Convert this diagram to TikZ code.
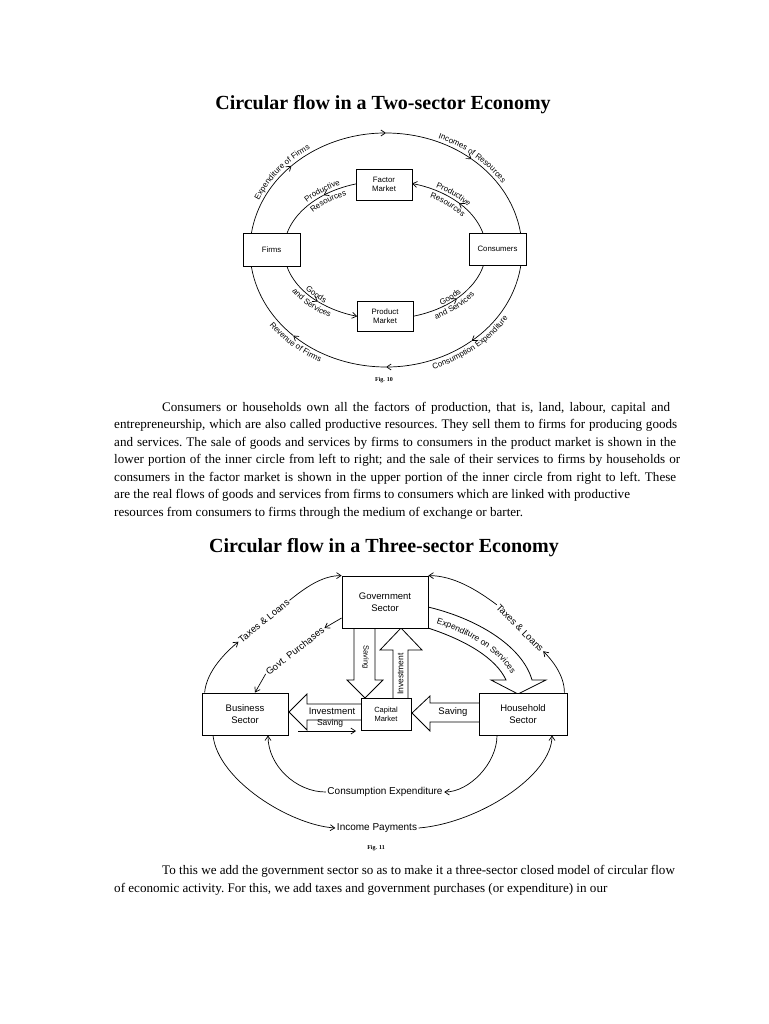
\documentclass[tikz,border=0pt]{standalone}
\usepackage{fontspec}
\setmainfont{Liberation Serif}
\setsansfont{Liberation Sans}
\usetikzlibrary{arrows.meta,decorations.text}
\newcommand{\lbl}{\sffamily\fontsize{8}{9}\selectfont}
\newcommand{\eslbl}{\sffamily\fontsize{8.5}{9}\selectfont}
\newcommand{\ellarc}[6][]{\draw[flow,#1] (#2) ++(#5:#3 and #4) arc[start angle=#5,end angle=#6,x radius=#3,y radius=#4];}
\newcommand{\arclabel}[6]{\path[decorate,decoration={text along path,text align=center,text={#6}}] (#1) ++(#4:#2 and #3) arc[start angle=#4,end angle=#5,x radius=#2,y radius=#3];}
\newcommand{\jline}[2]{\hbox to #1pt{#2}}
\tikzset{
  flow/.style={line width=0.7pt},
  barb/.style={-{Straight Barb[length=4.5pt,width=6pt]}},
  fbox/.style={draw,fill=white,line width=0.8pt,inner sep=0pt,align=center,font=\sffamily\fontsize{7.8}{9.2}\selectfont},
  gbox/.style={draw,fill=white,line width=0.8pt,inner sep=0pt,align=center,font=\sffamily\fontsize{9.5}{11.5}\selectfont},
  blk/.style={draw,fill=white,line width=0.8pt,line join=miter},
  glbl/.style={font=\sffamily\fontsize{9.5}{11}\selectfont,inner sep=1.5pt},
  para/.style={anchor=base west,inner sep=0pt,font=\fontsize{13.1}{15}\selectfont\frenchspacing},
  ttl/.style={font=\bfseries\fontsize{20}{24}\selectfont,inner sep=0pt},
  figcap/.style={font=\bfseries\fontsize{6}{7}\selectfont,inner sep=0pt}
}
\begin{document}
\begin{tikzpicture}[x=1pt,y=-1pt]
\useasboundingbox (0,0) rectangle (768,1024);
\fill[white] (0,0) rectangle (768,1024);

% ---------- Title 1 ----------
\node[ttl] (t1) at (383,105) {Circular flow in a Two-sector Economy};

% ---------- Diagram 1 ----------
\coordinate (c1) at (386,250);
\coordinate (c2) at (385,250);
% outer ellipse (clockwise flow)
\ellarc[barb]{c1}{136}{117}{186}{226}
\ellarc[barb]{c1}{136}{117}{226}{270}
\ellarc[barb]{c1}{136}{117}{270}{309}
\ellarc{c1}{136}{117}{309}{354}
\ellarc[barb]{c1}{136}{117}{6}{51}
\ellarc[barb]{c1}{136}{117}{51}{90}
\ellarc[barb]{c1}{136}{117}{90}{133}
\ellarc{c1}{136}{117}{133}{174}
% inner ellipse
\ellarc[barb]{c2}{101}{69}{348}{317}
\ellarc[barb]{c2}{101}{69}{317}{285.5}
\ellarc[barb]{c2}{101}{69}{253.3}{232.5}
\ellarc{c2}{101}{69}{232.5}{192}
\ellarc[barb]{c2}{101}{69}{168}{131.6}
\ellarc[barb]{c2}{101}{69}{131.6}{106}
\ellarc[barb]{c2}{101}{69}{73.9}{44.5}
\ellarc{c2}{101}{69}{44.5}{12}

% labels along arcs
\arclabel{c1}{139.5}{120.5}{190}{250}{|\lbl|Expenditure of Firms}
\arclabel{c1}{139.5}{120.5}{278}{342}{|\lbl|Incomes of Resources}
\arclabel{c1}{145}{126}{86}{16}{|\lbl|Consumption Expenditure}
\arclabel{c1}{145}{126}{160}{102}{|\lbl|Revenue of Firms}
\arclabel{c2}{104}{72}{210}{254}{|\lbl|Productive}
\arclabel{c2}{92}{60}{209}{253}{|\lbl|Resources}
\arclabel{c2}{104}{72}{290}{334}{|\lbl|Productive}
\arclabel{c2}{92}{60}{292}{336}{|\lbl|Resources}
\arclabel{c2}{99}{67}{160}{114}{|\lbl|Goods}
\arclabel{c2}{110}{78}{158}{112}{|\lbl|and Services}
\arclabel{c2}{99}{67}{69}{23}{|\lbl|Goods}
\arclabel{c2}{110}{78}{71}{25}{|\lbl|and Services}

% boxes
\node[fbox,minimum width=57pt,minimum height=33pt] (firms) at (271.5,249.5) {Firms};
\node[fbox,minimum width=57pt,minimum height=32pt] (cons) at (497.5,249) {Consumers};
\node[fbox,minimum width=56pt,minimum height=31pt] (fm) at (384,184.5) {Factor\\Market};
\node[fbox,minimum width=56pt,minimum height=30pt] (pm) at (385,316) {Product\\Market};
\node[figcap] (fig10) at (384,380) {Fig. 10};

% ---------- Paragraph 1 ----------
\node[para] (p1a) at (162,411) {\jline{508}{Consumers or households own all the factors of production, that is, land, labour, capital and}};
\node[para] (p1b) at (114,428.5) {\jline{563}{entrepreneurship, which are also called productive resources. They sell them to firms for producing goods}};
\node[para] (p1c) at (114,446) {\jline{562}{and services. The sale of goods and services by firms to consumers in the product market is shown in the}};
\node[para] (p1d) at (114,463.5) {\jline{566}{lower portion of the inner circle from left to right; and the sale of their services to firms by households or}};
\node[para] (p1e) at (114,481) {\jline{562}{consumers in the factor market is shown in the upper portion of the inner circle from right to left. These}};
\node[para] (p1f) at (114,498.5) {are the real flows of goods and services from firms to consumers which are linked with productive};
\node[para] (p1g) at (114,516) {resources from consumers to firms through the medium of exchange or barter.};

% ---------- Title 2 ----------
\node[ttl] (t2) at (384,548) {Circular flow in a Three-sector Economy};

% ---------- Diagram 2 ----------
% block arrows
\draw[blk] (354,628) -- (354,680) -- (347,680) -- (365,698) -- (383,680) -- (375,680) -- (375,628);
\draw[blk] (393,698) -- (393,650) -- (380,650) -- (401,628) -- (422,650) -- (408,650) -- (408,698);
\draw[blk] (361,704) -- (307,704) -- (307,694) -- (289,712) -- (307,730) -- (307,720) -- (361,720);
\draw[blk] (479,703) -- (430,703) -- (430,696) -- (412,713) -- (430,731) -- (430,722) -- (479,722);
\draw[blk] (428,607) .. controls (475,618) and (522,645) .. (532,680) -- (546,680) -- (518,694) -- (491,680) -- (506,680) .. controls (496,658) and (465,640) .. (428,628);
\path[decorate,decoration={text along path,text align=center,text={|\eslbl|Expenditure on Services}}] (428,621) .. controls (469,632) and (505,655) .. (515,682);

\node[font=\sffamily\fontsize{7.5}{8}\selectfont,rotate=-90,inner sep=0pt] (sv1) at (365.5,657) {Saving};
\node[font=\sffamily\fontsize{8.5}{9}\selectfont,rotate=90,inner sep=0pt] (iv1) at (400.5,674) {Investment};
\node[glbl] (iv2) at (332,711) {Investment};
\node[glbl] (sv3) at (453,712) {Saving};
\node[glbl,font=\sffamily\fontsize{8.5}{9}\selectfont] (sv2) at (330,723.5) {Saving};

% boxes
\node[gbox,minimum width=86pt,minimum height=52pt] (gov) at (385,602) {Government\\Sector};
\node[gbox,minimum width=86pt,minimum height=42pt] (bus) at (245,714) {Business\\Sector};
\node[gbox,minimum width=88pt,minimum height=42pt] (hh) at (523,714) {Household\\Sector};
\node[fbox,minimum width=50pt,minimum height=32pt,font=\sffamily\fontsize{7.5}{9}\selectfont] (cap) at (386,714) {Capital\\Market};

\draw[flow,barb] ([xshift=10pt]bus.east |- 0,731) -- (356,731);

% curved labels and arrows
\node[glbl,rotate=39] (tl1) at (264,621) {Taxes \& Loans};
\node[glbl,rotate=38] (gp) at (295,651) {Govt. Purchases};
\node[glbl,rotate=-45] (tl2) at (520,628) {Taxes \& Loans};
\node[glbl,font=\sffamily\fontsize{10}{11}\selectfont] (ce) at (385,792) {Consumption Expenditure};
\node[glbl,font=\sffamily\fontsize{10}{11}\selectfont] (ip) at (377,828) {Income Payments};

\draw[flow,barb] ([xshift=3pt]bus.north west) .. controls +(2,-22) and +(-12,10) .. (tl1.west);
\draw[flow,barb] (tl1.east) .. controls +(15,-12) and +(-20,0) .. (gov.north west);
\draw[flow,barb] ([yshift=-16pt]gov.west) -- (gp.east);
\draw[flow,barb] (gp.west) -- ([xshift=10pt]bus.north);
\draw[flow,barb] (tl2.west) .. controls +(-20,-15) and +(25,0) .. (gov.north east);
\draw[flow,barb] ([xshift=-3pt]hh.north east) .. controls +(0,-18) and +(8,8) .. (tl2.east);
\draw[flow,barb] ([xshift=-26pt]hh.south) .. controls +(0,28) and +(25,0) .. (ce.east);
\draw[flow,barb] (ce.west) .. controls +(-30,0) and +(0,30) .. ([xshift=23pt]bus.south);
\draw[flow,barb] ([xshift=-32pt]bus.south) .. controls +(5,45) and +(-45,-3) .. (ip.west);
\draw[flow,barb] (ip.east) .. controls +(60,-5) and +(0,40) .. ([xshift=29pt]hh.south);

\node[figcap] (fig11) at (376,848) {Fig. 11};

% ---------- Paragraph 2 ----------
\node[para] (p2a) at (162,874.5) {To this we add the government sector so as to make it a three-sector closed model of circular flow};
\node[para] (p2b) at (114,892) {of economic activity. For this, we add taxes and government purchases (or expenditure) in our};
\end{tikzpicture}
\end{document}
